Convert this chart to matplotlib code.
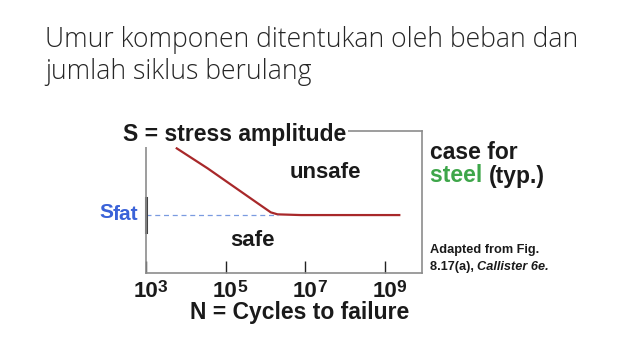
import numpy as np
import matplotlib
matplotlib.use("Agg")
import matplotlib.pyplot as plt

# S-N curve (steel)
log_cycles = [3.75, 4.55, 5.39, 5.81, 6.14, 6.31, 6.9, 9.4]
stress = [0.882, 0.737, 0.573, 0.491, 0.427, 0.413, 0.408, 0.408]
s_fat = 0.408
tick_exp = [3, 5, 7, 9]

plt.rcParams["font.family"] = ["Liberation Sans", "DejaVu Sans"]

fig = plt.figure(figsize=(6.4, 3.6), dpi=100)
W, H = 640, 360
ink = "#1a1a1a"

# slide title
for y, line in [(40, "Umur komponen ditentukan oleh beban dan"), (72, "jumlah siklus berulang")]:
    fig.text(45 / W, 1 - y / H, line, fontsize=19.1, family=["Open Sans", "DejaVu Sans"],
             weight="light", color="#262626", va="center", ha="left")

# chart box
left, right, top, bottom = 146, 422, 131, 273
ax = fig.add_axes([left / W, 1 - bottom / H, (right - left) / W, (bottom - top) / H])
ax.set_xscale("log")
ax.set_xlim(1e3, 10 ** (3 + (right - left) / 39.75))
ax.set_ylim(0, 1)
for sp in ax.spines.values():
    sp.set_color("#8c8c8c")
    sp.set_linewidth(1.2)

n = [10 ** v for v in log_cycles]
ax.plot(n, stress, color="#a8282a", lw=1.6, solid_capstyle="butt")
ax.plot([1e3, n[5]], [s_fat, s_fat], color="#7a9be0", lw=0.9, ls=(0, (4, 3)))

# ticks pointing inward, labels drawn as "10" + raised exponent
ax.set_xticks([10.0 ** e for e in tick_exp])
ax.set_xticklabels([])
ax.xaxis.set_minor_locator(matplotlib.ticker.NullLocator())
ax.tick_params(axis="x", direction="in", length=9, width=1, color="#222222")
ax.set_yticks([])
fs = 16
for e in tick_exp:
    ax.annotate("10", xy=(10.0 ** e, 0), xycoords=ax.get_xaxis_transform(),
                xytext=(0, -13.3), textcoords="offset points", fontsize=fs, weight="bold",
                ha="center", va="center", color=ink, annotation_clip=False)
    ax.annotate(str(e), xy=(10.0 ** e, 0), xycoords=ax.get_xaxis_transform(),
                xytext=(0.556 * fs - 0.3, -10.8), textcoords="offset points", fontsize=12.5,
                weight="bold", ha="left", va="center", color=ink, annotation_clip=False)

# dark mark on the left spine at S_fat
ax.plot([0, 0], [s_fat - 0.12, s_fat + 0.12], transform=ax.get_yaxis_transform(),
        color="#444444", lw=2.2, clip_on=False)

ax.text(0.65, 0.71, "unsafe", transform=ax.transAxes, fontsize=16, weight="bold",
        color=ink, ha="center", va="center")
ax.text(0.385, 0.23, "safe", transform=ax.transAxes, fontsize=16, weight="bold",
        color=ink, ha="center", va="center")

# axis titles
fig.text(235 / W, 1 - 134 / H, "S = stress amplitude", fontsize=16.5, weight="bold",
         color=ink, ha="center", va="center",
         bbox=dict(facecolor="white", edgecolor="none", pad=1))
fig.text(300 / W, 1 - 313 / H, "N = Cycles to failure", fontsize=16.5, weight="bold",
         color=ink, ha="center", va="center")

# S_fat label
fig.text(99 / W, 1 - 212 / H, "S", fontsize=15, weight="bold", color="#3a62d8",
         ha="left", va="center")
fig.text(113 / W, 1 - 215 / H, "fat", fontsize=15, weight="bold", color="#3a62d8",
         ha="left", va="center")

# side notes; pieces on one line are chained by their drawn widths
renderer = fig.canvas.get_renderer()


def chain(x, y, parts, fontsize):
    for txt, color, style in parts:
        t = fig.text(x / W, 1 - y / H, txt, fontsize=fontsize, weight="bold",
                     style=style, color=color, ha="left", va="center")
        x += t.get_window_extent(renderer).width


chain(430, 152, [("case for", ink, "normal")], 16.5)
chain(430, 176, [("steel ", "#3ea64a", "normal"), ("(typ.)", ink, "normal")], 16.5)
chain(430, 250, [("Adapted from Fig.", ink, "normal")], 9.2)
chain(430, 267, [("8.17(a), ", ink, "normal"), ("Callister 6e.", ink, "italic")], 9.2)

fig.savefig("out.png", dpi=100, facecolor="white")
